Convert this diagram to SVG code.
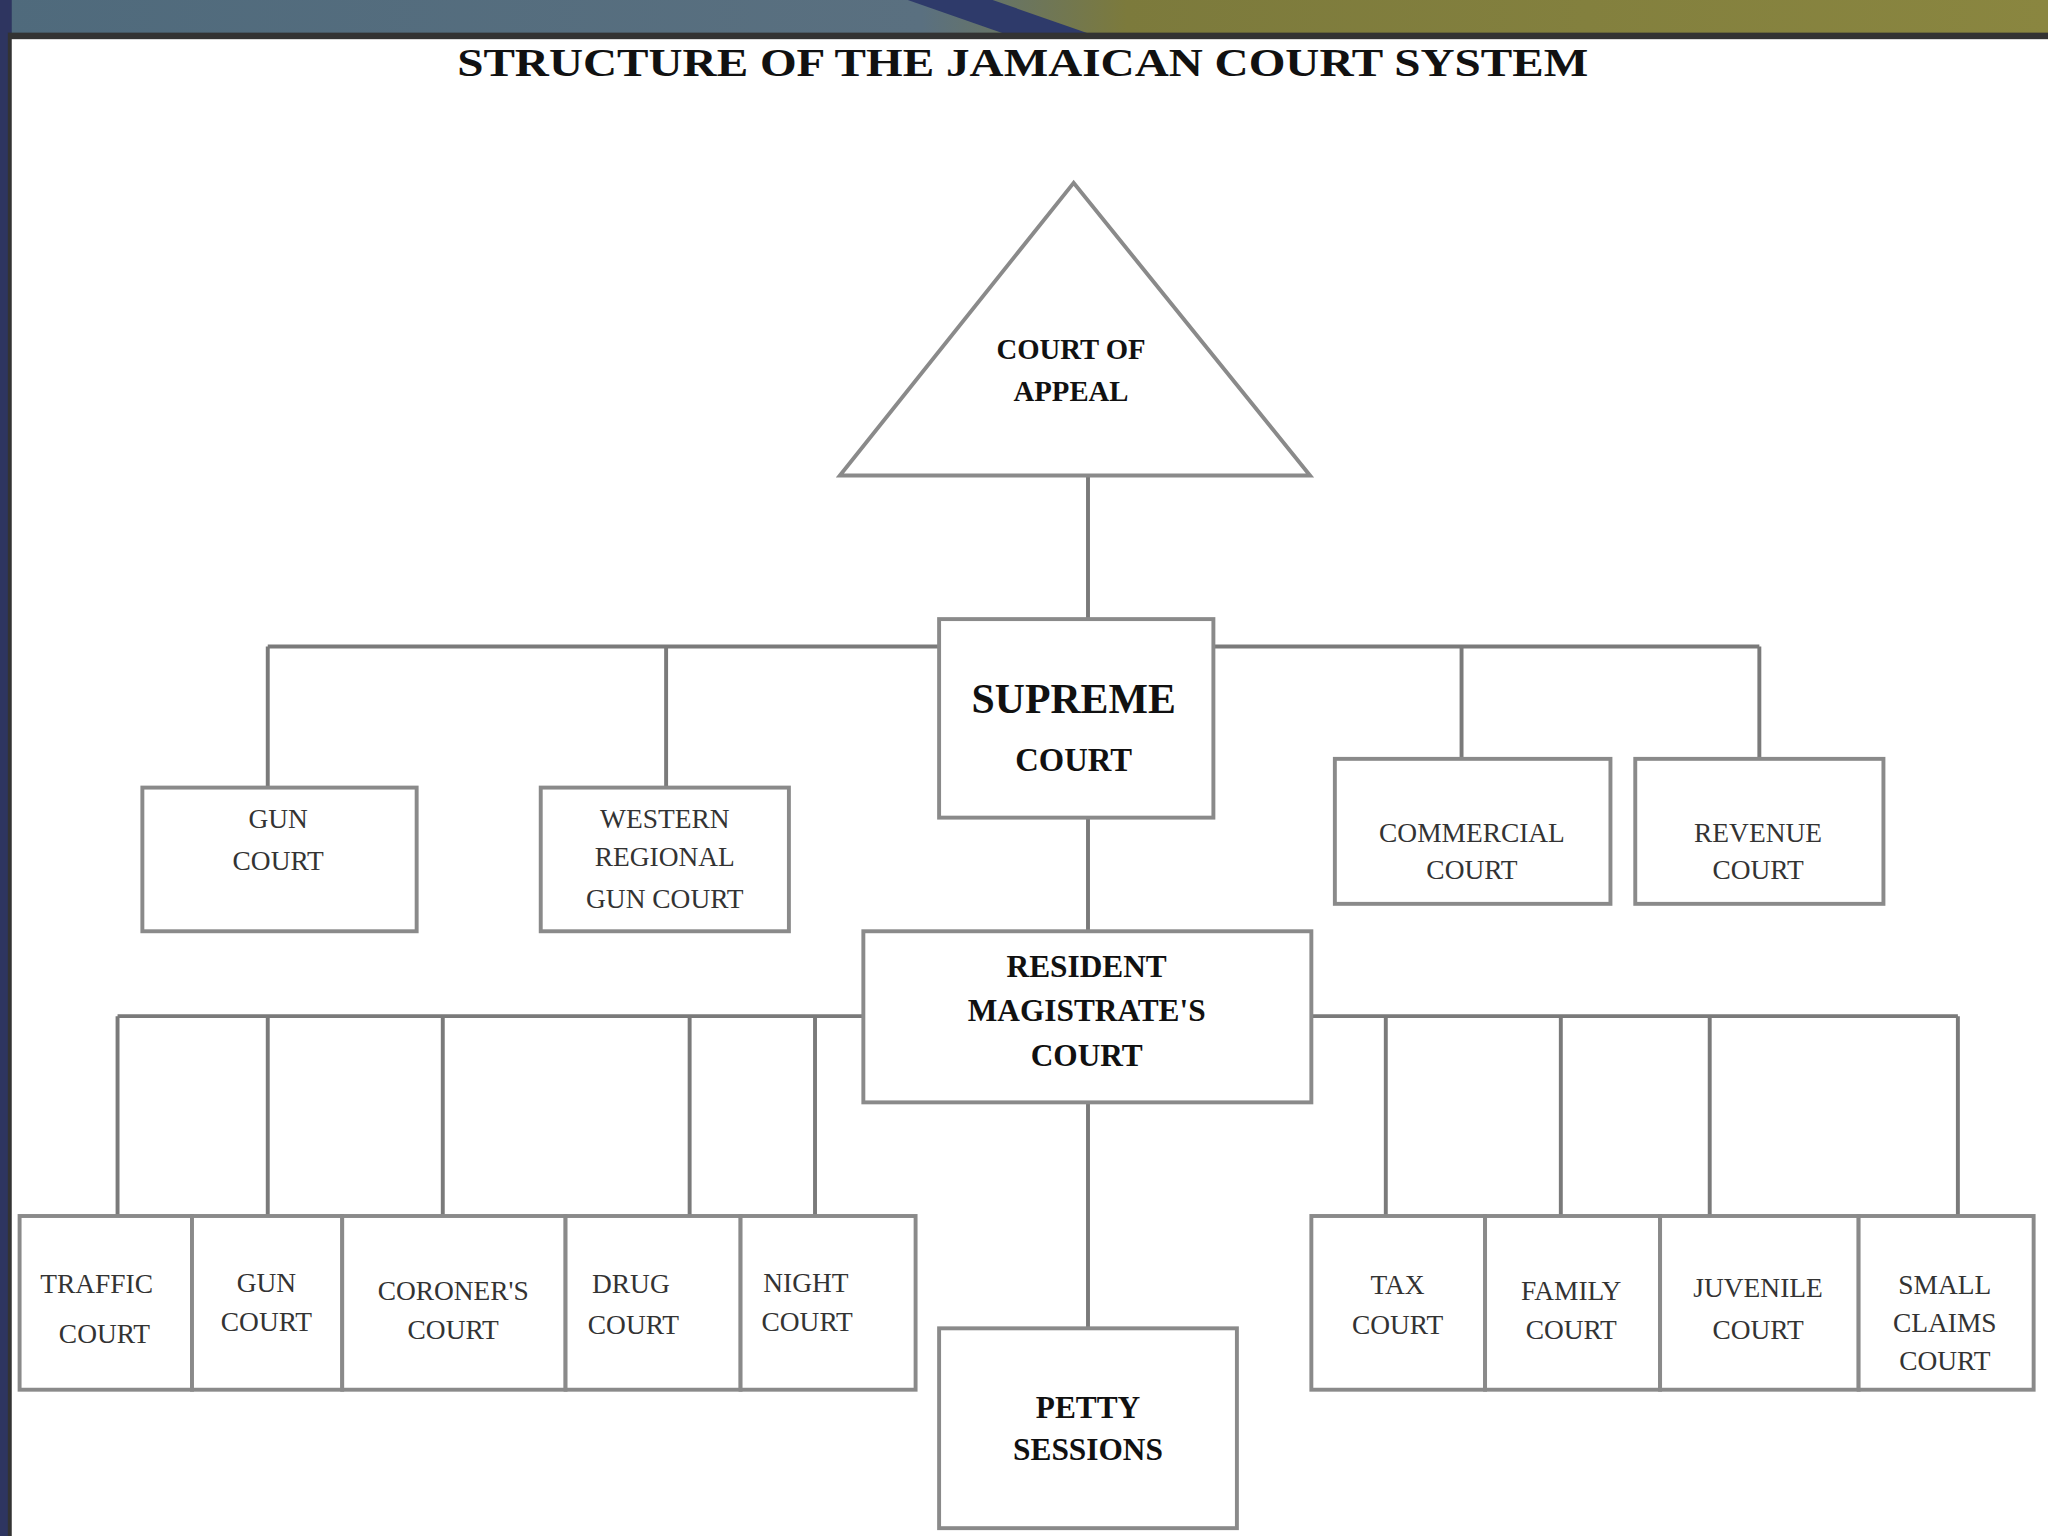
<svg xmlns="http://www.w3.org/2000/svg" width="2048" height="1536" viewBox="0 0 2048 1536">
<defs>
<linearGradient id="bg" x1="0" y1="0" x2="1" y2="0"><stop offset="0" stop-color="#4f6a7c"/><stop offset="0.45" stop-color="#5a7080"/><stop offset="0.55" stop-color="#7c7a3c"/><stop offset="1" stop-color="#8a8640"/></linearGradient>
<style>
.b{fill:#fff;stroke:#8a8a8a;stroke-width:3}
.c{fill:none;stroke:#7a7a7a;stroke-width:3}
.t{font-family:"Liberation Serif",serif;font-weight:bold;fill:#111;text-anchor:middle}
.s{font-family:"Liberation Serif",serif;fill:#333;text-anchor:middle;font-size:21px}
</style>
</defs>
<g transform="scale(1.306122)">
<rect x="0" y="0" width="1568" height="1176" fill="url(#bg)"/>
<polygon points="695,0 760,0 840,28 775,28" fill="#2e3a6a"/>
<rect x="0" y="0" width="9" height="1176" fill="#2e3560"/>
<rect x="6" y="25" width="1562" height="1151" fill="#333"/>
<rect x="9" y="30" width="1559" height="1146" fill="#fff"/>
<text x="783" y="58" class="t" font-size="30" textLength="866" lengthAdjust="spacingAndGlyphs">STRUCTURE OF THE JAMAICAN COURT SYSTEM</text>
<g id="connectors">
<path class="c" d="M833 364V474M833 626V713M833 844V1017M205 495H719M929 495H1347M205 495V603M510 495V603M1119 495V581M1347 495V581M90 778H661M1004 778H1499M90 778V931M205 778V931M339 778V931M528 778V931M624 778V931M1061 778V931M1195 778V931M1309 778V931M1499 778V931"/>
</g>
<g id="appeal"><polygon class="b" points="822,140 643,364 1003,364"/><text class="t" font-size="22" x="820" y="275">COURT OF</text><text class="t" font-size="22" x="820" y="307">APPEAL</text></g>
<g id="supreme"><rect class="b" x="719" y="474" width="210" height="152"/><text class="t" font-size="32" x="822" y="546">SUPREME</text><text class="t" font-size="25" x="822" y="590">COURT</text></g>
<g id="gun1"><rect class="b" x="109" y="603" width="210" height="110"/><text class="s" x="213" y="634">GUN</text><text class="s" x="213" y="666">COURT</text></g>
<g id="western"><rect class="b" x="414" y="603" width="190" height="110"/><text class="s" x="509" y="634">WESTERN</text><text class="s" x="509" y="663">REGIONAL</text><text class="s" x="509" y="695">GUN COURT</text></g>
<g id="commercial"><rect class="b" x="1022" y="581" width="211" height="111"/><text class="s" x="1127" y="645">COMMERCIAL</text><text class="s" x="1127" y="673">COURT</text></g>
<g id="revenue"><rect class="b" x="1252" y="581" width="190" height="111"/><text class="s" x="1346" y="645">REVENUE</text><text class="s" x="1346" y="673">COURT</text></g>
<g id="rm"><rect class="b" x="661" y="713" width="343" height="131"/><text class="t" font-size="24" x="832" y="748">RESIDENT</text><text class="t" font-size="24" x="832" y="782">MAGISTRATE'S</text><text class="t" font-size="24" x="832" y="816">COURT</text></g>
<g id="traffic"><rect class="b" x="15" y="931" width="132" height="133"/><text class="s" x="74" y="990">TRAFFIC</text><text class="s" x="80" y="1028">COURT</text></g>
<g id="gun2"><rect class="b" x="147" y="931" width="115" height="133"/><text class="s" x="204" y="989">GUN</text><text class="s" x="204" y="1019">COURT</text></g>
<g id="coroner"><rect class="b" x="262" y="931" width="171" height="133"/><text class="s" x="347" y="995">CORONER'S</text><text class="s" x="347" y="1025">COURT</text></g>
<g id="drug"><rect class="b" x="433" y="931" width="134" height="133"/><text class="s" x="483" y="990">DRUG</text><text class="s" x="485" y="1021">COURT</text></g>
<g id="night"><rect class="b" x="567" y="931" width="134" height="133"/><text class="s" x="617" y="989">NIGHT</text><text class="s" x="618" y="1019">COURT</text></g>
<g id="tax"><rect class="b" x="1004" y="931" width="133" height="133"/><text class="s" x="1070" y="991">TAX</text><text class="s" x="1070" y="1021">COURT</text></g>
<g id="family"><rect class="b" x="1137" y="931" width="134" height="133"/><text class="s" x="1203" y="995">FAMILY</text><text class="s" x="1203" y="1025">COURT</text></g>
<g id="juvenile"><rect class="b" x="1271" y="931" width="152" height="133"/><text class="s" x="1346" y="993">JUVENILE</text><text class="s" x="1346" y="1025">COURT</text></g>
<g id="small"><rect class="b" x="1423" y="931" width="134" height="133"/><text class="s" x="1489" y="991">SMALL</text><text class="s" x="1489" y="1020">CLAIMS</text><text class="s" x="1489" y="1049">COURT</text></g>
<g id="petty"><rect class="b" x="719" y="1017" width="228" height="153"/><text class="t" font-size="24" x="833" y="1086">PETTY</text><text class="t" font-size="24" x="833" y="1118">SESSIONS</text></g>
</g>
</svg>
